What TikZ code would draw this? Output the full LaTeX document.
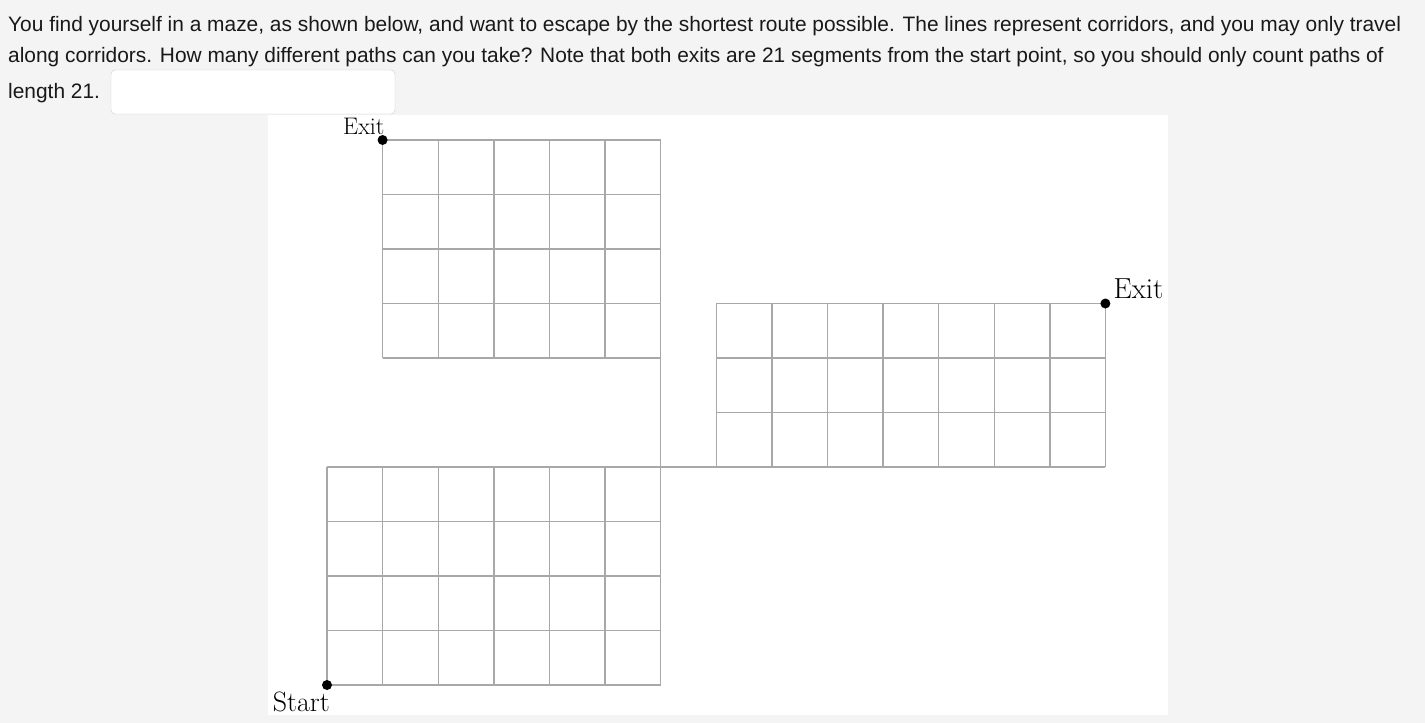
\documentclass[tikz,border=0pt]{standalone}
\usepackage{fontspec}
\usepackage{tikz}
\newfontfamily\uifont{Liberation Sans}
\definecolor{pagebg}{HTML}{F4F4F4}
\definecolor{corridor}{HTML}{A8A8A8}
\definecolor{boxline}{HTML}{CCCCCC}
\tikzset{
  question/.style={anchor=base west, inner sep=0pt, font=\uifont\fontsize{20.9}{24}\selectfont, text=black!90},
  corridors/.style={draw=corridor, line width=1.4pt},
  mazelabel/.style={inner sep=0pt},
  spot/.style={fill=black}
}

\begin{document}
\begin{tikzpicture}[x=1pt,y=-1pt]
\useasboundingbox (0,0) rectangle (1425,723);
\fill[pagebg] (0,0) rectangle (1425,723);

% question text
\node[question] (line1) at (8,31) {You find yourself in a maze, as shown below, and want to escape by the shortest route possible. The lines represent corridors, and you may only travel};
\node[question] (line2) at (8,62) {along corridors. How many different paths can you take? Note that both exits are 21 segments from the start point, so you should only count paths of};
\node[question] (line3) at (8,98) {length 21.};
\draw[boxline, fill=white, rounded corners=4pt] (111,70) rectangle (395,114);

% the picture
\fill[white] (268,115) rectangle (1168,715);
\begin{scope}[shift={(327,685)},x=55.6pt,y=54.5pt]
  \draw[corridors, step=1] (0,0) grid (6,4);
  \draw[corridors, step=1] (1,6) grid (6,10);
  \draw[corridors, step=1] (7,4) grid (14,7);
  \draw[corridors] (6,4) -- (6,6);
  \draw[corridors] (6,4) -- (7,4);
  \coordinate (start) at (0,0);
  \coordinate (exittop) at (1,10);
  \coordinate (exitright) at (14,7);
\end{scope}
\fill[spot] (start) circle (5pt);
\fill[spot] (exittop) circle (5pt);
\fill[spot] (exitright) circle (5pt);
\node[mazelabel, anchor=base east, font=\fontsize{28}{32}\selectfont] (startlabel) at ([shift={(3,26)}]start) {Start};
\node[mazelabel, anchor=base east, font=\fontsize{24}{28}\selectfont] (exittoplabel) at ([shift={(2,-6)}]exittop) {Exit};
\node[mazelabel, anchor=base west, font=\fontsize{29}{32}\selectfont] (exitrightlabel) at ([shift={(8,-5.5)}]exitright) {Exit};
\end{tikzpicture}
\end{document}
